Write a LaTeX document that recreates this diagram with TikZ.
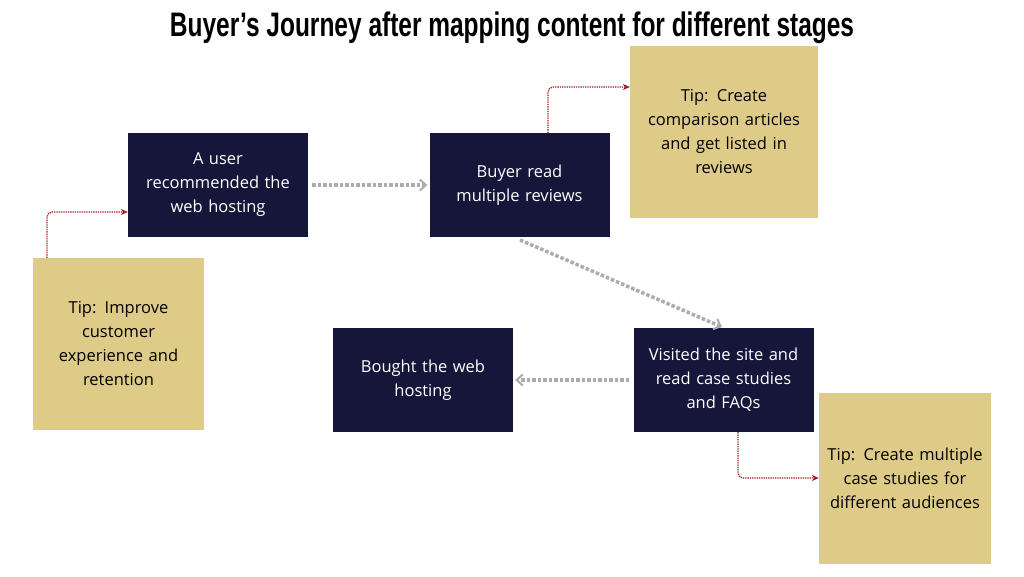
\documentclass[tikz,border=0pt]{standalone}
\usepackage{fontspec}
\setmainfont{Open Sans}
\newfontfamily\titlefont{Liberation Sans}
\usetikzlibrary{arrows.meta}
\definecolor{navy}{HTML}{16163A}
\definecolor{khaki}{HTML}{DDCB87}
\definecolor{dred}{HTML}{A31C1C}
\begin{document}
\begin{tikzpicture}[x=1pt,y=-1pt,
 box/.style={fill=navy,text=white,minimum width=180pt,minimum height=104pt,align=center,text width=170pt,font=\fontsize{16.5}{24}\selectfont,inner sep=0pt},
 tip/.style={fill=khaki,text=black,align=center,font=\fontsize{16.5}{24}\selectfont,inner sep=0pt},
 red/.style={draw=dred,densely dotted,line width=1.3pt,rounded corners=5pt,-{Stealth[length=7pt,width=6pt]}},
 gray/.style={draw=gray!65,dotted,line width=3.5pt,-{Straight Barb[length=6pt,width=11pt,line width=2pt]}}]
\useasboundingbox (0,0) rectangle (1024,576);
\fill[white] (0,0) rectangle (1024,576);
\node[font=\titlefont\bfseries\fontsize{34}{40}\selectfont] (title) at (512,28) {\scalebox{0.72}[1]{Buyer’s Journey after mapping content for different stages}};
\node[box] (a) at (218,185) {A user\\recommended the\\web hosting};
\node[box] (b) at (519.5,185) {Buyer read\\multiple reviews};
\node[box] (c) at (723.5,380) {Visited the site and\\read case studies\\and FAQs};
\node[box] (d) at (423,380) {Bought the web\\hosting};
\node[tip,minimum width=171pt,minimum height=172pt,text width=165pt] (t1) at (118.5,344) {Tip: Improve\\customer\\experience and\\retention};
\node[tip,minimum width=188pt,minimum height=172pt,text width=180pt] (t2) at (724,132) {Tip: Create\\comparison articles\\and get listed in\\reviews};
\node[tip,minimum width=172pt,minimum height=171pt,text width=172pt] (t3) at (905,478.5) {Tip: Create multiple\\case studies for\\different audiences};
\coordinate (c1) at (47,212);
\coordinate (c2) at (548,87);
\coordinate (c3) at (738,478);
\draw[red] (t1.north -| c1) -- (c1) -- (a.west |- c1);
\draw[red] (b.north -| c2) -- (c2) -- (t2.west |- c2);
\draw[red] (c.south -| c3) -- (c3) -- (t3.west |- c3);
\draw[gray] ([xshift=4pt]a.east) -- ([xshift=-2pt]b.west);
\draw[gray] (520,240) -- (722,327);
\draw[gray] ([xshift=-4pt]c.west) -- ([xshift=2pt]d.east);
\end{tikzpicture}
\end{document}
